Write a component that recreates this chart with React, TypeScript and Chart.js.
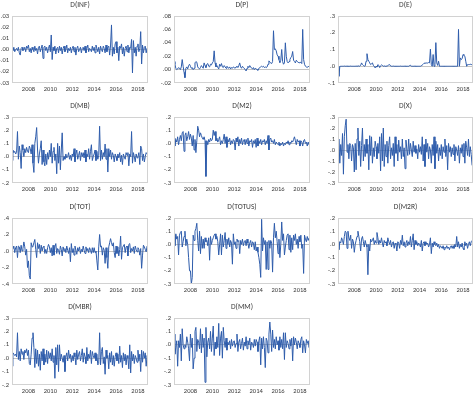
import React, { useEffect, useRef } from 'react';
import { Chart, registerables } from 'chart.js';

Chart.register(...registerables);

// Monthly observations, 2006M07 .. 2018M12
const FIRST_YEAR = 2006;
const FIRST_MONTH = 7;
const N_OBS = 150;
const months: string[] = Array.from({ length: N_OBS }, (_, i) => {
  const m = FIRST_MONTH - 1 + i;
  return `${FIRST_YEAR + Math.floor(m / 12)}M${String((m % 12) + 1).padStart(2, '0')}`;
});
const yearTicks = [2008, 2010, 2012, 2014, 2016, 2018];

const dINF = [
  0.001, -0.001, 0.002, -0.002, 0.000, 0.001,
  -0.001, 0.002, -0.003, -0.005, 0.001, 0.002, -0.001, 0.000, 0.002, -0.002, 0.003, 0.001,
  0.004, -0.002, 0.001, -0.003, 0.002, 0.000, -0.002, 0.003, -0.001, 0.001, -0.004, 0.002,
  0.003, -0.002, 0.001, 0.004, -0.008, 0.002, 0.003, -0.001, 0.002, -0.003, 0.001, 0.004,
  -0.002, 0.013, -0.009, 0.002, -0.001, 0.003, -0.004, 0.001, 0.002, -0.003, 0.003, -0.001,
  0.002, -0.004, 0.001, 0.003, -0.002, 0.000, 0.004, -0.003, 0.001, -0.001, 0.002, -0.003,
  0.001, 0.003, -0.002, 0.002, -0.005, 0.001, 0.003, -0.002, 0.000, 0.002, -0.003, 0.001,
  0.002, -0.001, 0.003, -0.003, 0.001, 0.004, -0.002, 0.001, 0.000, -0.002, 0.003, -0.001,
  0.002, -0.003, 0.004, 0.001, -0.002, 0.002, -0.004, 0.003, 0.000, -0.002, 0.003, 0.001,
  -0.003, 0.004, -0.002, 0.002, 0.003, -0.005, 0.004, 0.022, -0.006, 0.002, -0.004, 0.005,
  0.007, -0.003, 0.002, -0.010, 0.003, 0.001, 0.005, -0.004, 0.002, -0.006, 0.001, 0.003,
  -0.002, 0.004, -0.003, 0.002, 0.001, 0.009, -0.021, 0.008, -0.003, 0.002, -0.006, 0.003,
  0.005, -0.002, 0.001, 0.016, -0.013, 0.004, -0.003, 0.002, 0.003, -0.003, 0.001, 0.002,
];

const dP = [
  0.012, 0.008, 0.002, 0.000, 0.001, 0.003,
  0.002, 0.000, 0.004, 0.015, 0.005, -0.004, -0.012, 0.002, 0.004, 0.001, 0.006, 0.008,
  0.005, 0.002, 0.003, 0.000, 0.002, 0.010, 0.012, 0.011, 0.004, 0.002, 0.001, 0.003,
  0.006, 0.004, 0.002, 0.010, 0.006, 0.003, 0.008, 0.009, 0.005, 0.004, 0.008, 0.007,
  0.010, 0.012, 0.028, 0.010, 0.004, 0.006, 0.003, 0.001, 0.008, 0.005, 0.009, 0.004,
  0.003, 0.006, 0.004, 0.002, 0.005, 0.003, 0.002, 0.004, 0.001, 0.003, 0.002, 0.004,
  0.003, 0.002, 0.004, 0.005, 0.003, 0.006, 0.010, 0.004, 0.002, 0.005, 0.003, 0.002,
  0.000, -0.002, 0.002, 0.005, 0.003, 0.006, 0.004, 0.002, 0.001, 0.003, 0.000, 0.002,
  0.001, 0.000, -0.001, 0.002, 0.003, 0.004, 0.005, 0.004, 0.005, 0.003, 0.004, 0.003,
  0.004, 0.008, 0.013, 0.011, 0.010, 0.009, 0.012, 0.058, 0.030, 0.031, 0.028, 0.022,
  0.020, 0.015, 0.010, 0.014, 0.030, 0.012, 0.008, 0.010, 0.040, 0.020, 0.012, 0.010,
  0.012, 0.015, 0.018, 0.020, 0.027, 0.014, 0.012, 0.010, 0.014, 0.012, 0.011, 0.010,
  0.010, 0.011, 0.009, 0.060, 0.015, 0.008, 0.005, 0.004, 0.003, 0.005, 0.004, 0.006,
];

const dE = [
  0.000, -0.060, -0.002, 0.000, 0.000, 0.000,
  0.000, 0.001, 0.000, 0.000, 0.001, 0.000, 0.000, 0.000, 0.001, 0.000, 0.000, 0.000,
  0.000, 0.000, 0.001, 0.000, 0.000, 0.002, 0.000, 0.005, 0.020, 0.010, 0.005, 0.000,
  0.002, 0.030, 0.075, 0.040, 0.030, 0.020, 0.010, 0.015, 0.020, 0.005, 0.000, -0.010,
  0.000, -0.005, 0.010, 0.005, -0.008, 0.003, 0.008, 0.005, 0.000, 0.002, 0.000, 0.000,
  0.000, 0.003, 0.008, 0.010, 0.002, 0.000, 0.000, 0.001, 0.000, 0.000, 0.000, 0.000,
  0.000, 0.000, 0.000, 0.001, 0.000, 0.000, 0.000, 0.000, 0.001, 0.000, 0.000, 0.000,
  0.000, 0.004, 0.006, 0.000, 0.000, 0.000, 0.000, 0.001, 0.000, 0.000, 0.000, 0.000,
  0.000, 0.000, 0.002, 0.008, 0.012, 0.018, 0.020, 0.018, 0.020, 0.019, 0.022, 0.020,
  0.102, 0.010, 0.000, 0.070, 0.000, 0.010, 0.141, 0.020, 0.005, 0.030, 0.000, 0.000,
  0.000, 0.000, 0.000, 0.000, 0.000, 0.000, 0.000, 0.000, 0.000, 0.000, 0.000, 0.000,
  0.000, 0.000, 0.000, 0.000, 0.000, 0.000, 0.000, 0.220, 0.000, 0.050, 0.040, 0.045,
  0.070, 0.065, 0.060, 0.030, 0.000, 0.010, 0.010, 0.010, 0.012, 0.010, 0.010, 0.010,
];

const dMB = [
  -0.030, 0.050, 0.030, 0.040, 0.020, 0.030,
  0.190, -0.020, 0.080, 0.030, -0.090, 0.090, 0.050, 0.000, 0.060, 0.030, 0.070, 0.040,
  0.030, 0.080, 0.060, 0.020, 0.090, -0.050, -0.120, 0.100, 0.150, 0.220, 0.050, -0.050,
  0.020, 0.060, 0.120, -0.060, 0.050, -0.040, -0.070, 0.020, -0.060, 0.030, -0.020, 0.050,
  0.000, 0.100, -0.050, 0.040, 0.070, -0.030, 0.020, -0.130, 0.100, -0.050, 0.080, -0.100,
  0.050, 0.180, -0.030, 0.000, -0.020, 0.020, -0.010, 0.000, 0.030, -0.020, 0.010, -0.030,
  0.020, 0.000, 0.060, -0.040, 0.020, 0.050, -0.020, 0.010, 0.040, -0.030, 0.030, 0.000,
  0.030, -0.010, 0.050, -0.040, 0.020, 0.000, 0.060, -0.020, 0.040, 0.090, -0.030, 0.000,
  0.020, 0.050, -0.030, 0.040, -0.020, 0.010, 0.230, -0.030, 0.050, -0.020, 0.030, 0.000,
  0.095, -0.020, 0.060, -0.117, 0.060, 0.000, 0.050, -0.020, 0.030, 0.010, -0.040, 0.020,
  0.000, -0.030, 0.020, -0.010, 0.030, -0.040, 0.010, -0.060, 0.020, 0.000, -0.020, 0.030,
  0.010, 0.030, -0.070, 0.020, 0.000, 0.190, -0.050, 0.030, 0.000, -0.040, 0.020, -0.010,
  0.000, 0.030, -0.060, 0.080, 0.060, -0.030, 0.020, -0.040, 0.000, 0.030, 0.020, 0.030,
];

const dM2 = [
  0.040, -0.020, 0.030, 0.010, 0.050, -0.010,
  0.030, 0.060, 0.020, 0.080, 0.090, -0.060, 0.060, 0.080, 0.020, 0.050, 0.090, 0.030,
  0.070, 0.040, -0.020, 0.060, -0.050, 0.030, -0.070, 0.020, 0.130, 0.100, 0.050, 0.080,
  0.060, 0.040, 0.030, 0.050, 0.020, -0.250, 0.020, -0.010, 0.030, 0.010, 0.040, 0.020,
  0.030, 0.100, 0.060, 0.090, 0.020, 0.040, 0.010, 0.030, 0.050, -0.010, 0.020, 0.000,
  0.030, 0.070, 0.000, 0.050, -0.030, 0.030, 0.010, 0.040, -0.010, 0.020, 0.000, 0.030,
  0.020, -0.050, 0.040, 0.010, 0.050, -0.020, 0.030, 0.000, 0.040, -0.010, 0.020, 0.030,
  -0.010, 0.030, 0.000, 0.040, -0.020, 0.020, 0.010, 0.030, -0.030, 0.020, 0.000, 0.030,
  -0.030, 0.040, -0.020, 0.020, 0.000, 0.030, -0.010, 0.020, 0.010, 0.030, -0.010, 0.020,
  0.000, 0.060, -0.050, 0.030, 0.040, 0.010, 0.020, 0.000, 0.030, -0.010, 0.010, 0.000,
  -0.010, 0.010, -0.020, 0.000, -0.010, 0.010, -0.020, 0.000, -0.010, 0.010, 0.000, 0.020,
  -0.010, 0.010, 0.000, 0.020, 0.010, 0.030, 0.050, 0.020, -0.010, 0.030, 0.010, 0.020,
  -0.020, 0.020, 0.010, -0.020, 0.020, 0.030, 0.000, 0.010, -0.020, 0.010, -0.010, 0.020,
];

const dX = [
  -0.100, 0.100, -0.120, 0.050, -0.050, 0.150,
  -0.220, 0.120, 0.220, 0.280, -0.020, 0.050, -0.080, 0.060, 0.040, -0.100, 0.050, 0.020,
  -0.200, 0.060, -0.180, 0.100, 0.200, -0.050, 0.080, -0.150, 0.040, 0.200, -0.100, 0.050,
  -0.060, 0.100, -0.030, 0.050, -0.180, 0.130, -0.050, 0.120, -0.120, 0.020, -0.060, 0.080,
  0.030, -0.080, 0.060, -0.030, 0.120, -0.190, 0.150, -0.100, 0.200, -0.150, 0.050, -0.060,
  0.080, -0.120, 0.040, 0.120, -0.080, 0.020, -0.050, 0.060, -0.150, 0.120, -0.030, 0.050,
  -0.100, 0.090, -0.020, 0.030, -0.080, 0.100, -0.060, 0.020, -0.170, 0.090, 0.010, -0.050,
  0.100, -0.040, 0.060, 0.000, -0.060, 0.080, -0.020, 0.040, -0.030, 0.010, -0.080, 0.050,
  -0.020, 0.030, -0.040, 0.120, -0.100, 0.050, -0.150, 0.100, -0.020, 0.060, -0.080, 0.030,
  0.000, -0.120, 0.050, -0.050, 0.120, -0.170, 0.080, -0.030, 0.050, -0.100, 0.020, -0.050,
  0.050, -0.080, 0.030, -0.020, 0.100, -0.060, 0.040, -0.180, 0.060, -0.020, 0.030, -0.060,
  0.020, -0.040, 0.050, -0.100, 0.030, 0.000, -0.050, 0.040, -0.120, 0.020, -0.030, 0.050,
  -0.060, 0.060, -0.120, 0.080, 0.020, -0.050, 0.100, -0.060, 0.030, -0.040, -0.140, -0.140,
];

const dTOT = [
  0.050, 0.030, 0.060, -0.020, 0.040, 0.060,
  -0.080, 0.060, 0.050, -0.020, 0.070, 0.000, 0.030, 0.110, 0.050, -0.050, 0.020, -0.200,
  -0.120, -0.300, -0.340, 0.100, 0.050, 0.060, 0.100, 0.140, 0.020, -0.080, 0.100, 0.030,
  0.080, -0.030, 0.070, 0.000, 0.050, 0.060, -0.030, 0.020, -0.030, 0.040, 0.080, 0.050,
  -0.020, 0.040, -0.060, 0.070, -0.050, 0.050, 0.090, -0.030, 0.030, 0.010, -0.040, 0.060,
  0.020, -0.060, 0.050, 0.000, 0.030, -0.020, 0.060, 0.010, -0.030, 0.040, -0.130, 0.090,
  -0.020, 0.030, -0.050, 0.060, 0.010, -0.040, 0.040, 0.000, 0.050, -0.030, 0.020, -0.010,
  0.060, 0.010, -0.030, 0.050, 0.000, 0.030, -0.020, 0.040, 0.010, -0.030, 0.040, -0.020,
  0.040, -0.020, 0.000, -0.120, -0.230, 0.050, 0.200, 0.050, 0.060, -0.050, 0.040, 0.010,
  -0.150, 0.040, -0.080, -0.210, 0.050, 0.100, 0.150, 0.100, 0.060, 0.100, -0.020, -0.080,
  0.060, -0.030, 0.050, -0.060, 0.020, 0.180, -0.100, 0.040, 0.060, 0.080, -0.020, 0.050,
  0.060, -0.060, 0.080, 0.090, -0.020, 0.030, 0.000, 0.050, -0.030, 0.060, 0.020, -0.010,
  0.040, 0.020, -0.050, 0.030, -0.210, -0.050, 0.070, 0.050, 0.020, -0.010, 0.060, 0.050,
];

const dTOTUS = [
  0.070, -0.010, 0.080, 0.040, 0.060, -0.080,
  0.070, 0.090, 0.100, -0.020, 0.020, 0.060, 0.100, -0.010, 0.040, 0.000, -0.100, -0.200,
  -0.200, -0.300, -0.250, 0.070, 0.030, 0.100, 0.120, 0.160, 0.030, -0.050, 0.100, -0.070,
  0.060, -0.030, 0.040, -0.030, 0.050, 0.020, 0.030, -0.010, 0.050, -0.120, 0.060, 0.000,
  0.030, 0.050, 0.070, 0.080, 0.040, 0.060, 0.020, -0.080, 0.000, 0.080, -0.080, 0.070,
  -0.020, 0.030, 0.090, -0.030, 0.040, 0.000, 0.050, -0.020, 0.030, 0.010, -0.150, 0.080,
  0.000, 0.020, -0.030, 0.040, 0.020, 0.030, -0.070, 0.030, 0.000, 0.040, -0.010, 0.020,
  0.030, -0.010, 0.040, 0.010, -0.030, 0.010, 0.030, -0.020, 0.020, 0.010, -0.040, 0.020,
  -0.050, -0.020, -0.060, -0.100, -0.150, -0.250, 0.190, -0.050, 0.050, 0.000, 0.030, -0.190,
  0.020, -0.190, 0.030, -0.030, 0.030, 0.010, -0.210, 0.050, 0.160, 0.050, 0.100, 0.020,
  -0.070, 0.040, -0.100, 0.000, 0.170, 0.030, 0.080, -0.080, -0.020, 0.030, 0.070, 0.080,
  -0.040, 0.070, -0.060, 0.050, -0.040, 0.070, 0.030, 0.080, 0.000, 0.040, -0.030, 0.060,
  0.020, 0.070, -0.030, 0.000, -0.220, 0.070, 0.040, 0.020, 0.060, 0.030, 0.050, 0.050,
];

const dM2R = [
  0.020, -0.040, 0.020, 0.010, 0.050, 0.030,
  0.000, 0.060, 0.100, 0.090, -0.030, 0.100, 0.050, 0.030, 0.070, -0.030, 0.040, 0.020,
  -0.060, 0.000, 0.030, 0.060, 0.100, 0.060, 0.020, -0.050, 0.040, 0.060, 0.020, -0.020,
  0.030, 0.000, -0.020, -0.230, 0.000, -0.050, 0.040, 0.020, 0.030, 0.050, 0.000, 0.030,
  0.010, 0.090, 0.050, 0.000, 0.030, 0.010, 0.050, 0.010, -0.020, 0.030, 0.010, 0.020,
  -0.010, 0.050, 0.020, 0.000, 0.030, -0.020, 0.010, 0.020, -0.030, 0.010, 0.000, -0.050,
  0.020, 0.010, -0.030, 0.030, 0.000, 0.070, -0.010, 0.020, -0.020, 0.010, 0.030, -0.010,
  0.020, 0.000, 0.060, -0.020, 0.030, 0.080, -0.040, 0.030, 0.000, 0.020, -0.010, 0.010,
  0.000, -0.020, 0.030, -0.050, 0.010, 0.020, -0.010, 0.020, 0.000, 0.010, -0.020, 0.000,
  0.050, -0.070, 0.010, -0.020, 0.020, 0.000, -0.010, 0.010, -0.020, 0.000, -0.030, -0.010,
  -0.020, -0.030, -0.010, -0.040, -0.020, -0.030, -0.010, -0.030, -0.020, -0.040, -0.020, -0.010,
  -0.030, -0.010, -0.030, 0.000, -0.020, 0.060, -0.020, 0.020, -0.030, 0.000, -0.020, 0.010,
  -0.030, -0.040, 0.020, -0.010, 0.010, -0.030, 0.000, 0.020, -0.010, 0.020, 0.030, 0.030,
];

const dMBR = [
  -0.060, 0.040, 0.030, 0.020, 0.030, 0.010,
  0.190, -0.010, 0.050, -0.020, 0.070, 0.030, 0.050, -0.010, 0.060, 0.040, 0.070, 0.020,
  0.060, -0.040, -0.050, 0.030, 0.150, 0.190, 0.080, -0.070, 0.070, -0.040, 0.060, -0.060,
  0.030, -0.090, 0.050, -0.020, 0.070, -0.050, 0.030, -0.030, 0.060, -0.040, 0.050, 0.000,
  0.040, -0.020, 0.070, -0.030, 0.020, -0.150, 0.080, -0.050, 0.100, -0.100, 0.100, -0.020,
  0.030, 0.000, -0.030, 0.020, -0.100, 0.010, 0.040, -0.020, 0.060, 0.000, 0.030, -0.030,
  0.020, -0.020, 0.040, 0.010, -0.050, 0.060, -0.010, 0.030, 0.050, -0.020, 0.020, 0.070,
  -0.030, 0.040, 0.010, -0.040, 0.080, -0.020, 0.030, 0.000, 0.060, -0.040, 0.050, 0.020,
  0.000, 0.040, -0.020, 0.030, -0.050, -0.040, 0.190, -0.050, 0.050, 0.080, -0.040, 0.010,
  -0.120, 0.060, 0.000, 0.020, -0.080, 0.040, -0.030, 0.050, -0.050, 0.020, -0.060, 0.010,
  0.040, -0.020, 0.030, -0.040, 0.090, -0.030, 0.020, -0.070, 0.040, -0.020, 0.030, -0.050,
  0.020, 0.000, -0.080, 0.100, -0.110, 0.050, -0.020, 0.030, -0.040, 0.020, 0.000, -0.030,
  0.060, -0.020, 0.030, -0.100, 0.060, -0.030, 0.050, 0.000, 0.040, -0.060, 0.020, -0.010,
];

const dMM = [
  0.080, -0.070, -0.020, 0.030, -0.160, 0.030,
  -0.020, 0.080, -0.120, 0.120, 0.000, -0.030, 0.000, -0.020, 0.060, 0.020, -0.030, -0.120,
  0.080, -0.020, 0.050, -0.180, -0.100, 0.100, 0.130, -0.050, 0.040, 0.020, -0.030, 0.120,
  -0.060, 0.080, -0.020, 0.050, -0.280, 0.130, -0.090, 0.020, 0.050, -0.030, 0.100, -0.050,
  0.050, 0.140, -0.080, 0.020, -0.030, 0.060, -0.020, 0.160, -0.080, 0.050, 0.100, -0.100,
  0.130, 0.030, -0.020, 0.050, -0.040, 0.020, 0.000, 0.030, -0.030, 0.040, -0.010, 0.020,
  0.030, -0.020, 0.010, 0.080, -0.050, 0.020, 0.040, -0.030, 0.010, 0.050, -0.040, 0.020,
  -0.010, 0.060, -0.030, 0.030, 0.000, 0.050, -0.040, 0.020, 0.010, -0.020, 0.040, -0.010,
  0.040, 0.020, -0.050, 0.030, 0.060, -0.150, 0.050, -0.030, 0.060, -0.020, -0.170, 0.050,
  0.030, -0.060, 0.080, 0.170, 0.080, -0.050, 0.110, -0.020, 0.040, -0.030, 0.060, 0.000,
  0.030, -0.040, 0.060, -0.020, 0.040, -0.030, 0.090, -0.110, 0.090, -0.020, 0.030, 0.010,
  -0.030, 0.040, -0.010, 0.050, -0.120, 0.060, 0.000, 0.050, 0.020, -0.030, 0.030, 0.010,
  -0.020, 0.040, 0.060, -0.060, 0.030, 0.000, -0.060, 0.040, 0.010, 0.030, -0.020, 0.030,
];

// Y-axis tick values per panel
const ticksINF = [-0.03, -0.02, -0.01, 0, 0.01, 0.02, 0.03];
const ticksP = [-0.02, 0, 0.02, 0.04, 0.06, 0.08];
const ticksE = [-0.1, 0, 0.1, 0.2, 0.3];
const ticksMB = [-0.2, -0.1, 0, 0.1, 0.2, 0.3];
const ticksM2 = [-0.3, -0.2, -0.1, 0, 0.1, 0.2];
const ticksX = [-0.3, -0.2, -0.1, 0, 0.1, 0.2, 0.3];
const ticksTOT = [-0.4, -0.2, 0, 0.2, 0.4];
const ticksTOTUS = [-0.3, -0.2, -0.1, 0, 0.1, 0.2];
const ticksM2R = [-0.3, -0.2, -0.1, 0, 0.1, 0.2];
const ticksMBR = [-0.2, -0.1, 0, 0.1, 0.2, 0.3];
const ticksMM = [-0.3, -0.2, -0.1, 0, 0.1, 0.2];

const titles = ['D(INF)', 'D(P)', 'D(E)', 'D(MB)', 'D(M2)', 'D(X)', 'D(TOT)', 'D(TOTUS)', 'D(M2R)', 'D(MBR)', 'D(MM)'];
const seriesList = [dINF, dP, dE, dMB, dM2, dX, dTOT, dTOTUS, dM2R, dMBR, dMM];
const tickList = [ticksINF, ticksP, ticksE, ticksMB, ticksM2, ticksX, ticksTOT, ticksTOTUS, ticksM2R, ticksMBR, ticksMM];
const decimalsList = [2, 2, 1, 1, 1, 1, 1, 1, 1, 1, 1];

// Layout (page pixels)
const PLOT_LEFT = [12, 174, 338];
const PLOT_RIGHT = [148, 310, 473];
const CANVAS_LEFT = [0, 158, 322];
const PLOT_TOP = [16, 117, 218, 318];
const PLOT_BOTTOM = [83, 183, 284, 385];
const PAD_TOP = 16;
const XAXIS_H = 12;
const PAD_RIGHT = 6;

const LINE_COLOR = '#2e5cab';
const TEXT_COLOR = '#3a3a3a';
const FRAME_COLOR = '#d2d2d2';
const FONT_FAMILY = 'Carlito, Lato, sans-serif';

const monthToX = (label: string) => {
  const [y, m] = label.split('M');
  return Number(y) + (Number(m) - 1) / 12;
};
const X_MIN = monthToX(months[0]);
const X_MAX = monthToX(months[months.length - 1]);

const fmt = (v: number, d: number) => {
  const s = Math.abs(v).toFixed(d).replace(/^0/, '');
  return (v < -1e-9 ? '-' : '') + s;
};

function Panel({ idx }: { idx: number }) {
  const ref = useRef<HTMLCanvasElement | null>(null);
  const col = idx % 3;
  const row = Math.floor(idx / 3);
  const cLeft = CANVAS_LEFT[col];
  const cTop = PLOT_TOP[row] - PAD_TOP;
  const width = PLOT_RIGHT[col] - cLeft + PAD_RIGHT;
  const height = PLOT_BOTTOM[row] - cTop + XAXIS_H;
  const yAxisW = PLOT_LEFT[col] - cLeft;

  useEffect(() => {
    if (!ref.current) return;
    const values = seriesList[idx];
    const ticks = tickList[idx];
    const dec = decimalsList[idx];
    const title = titles[idx];
    const framePlugin = {
      id: 'frame' + idx,
      afterDraw(chart: any) {
        const { ctx, chartArea } = chart;
        ctx.save();
        ctx.strokeStyle = FRAME_COLOR;
        ctx.lineWidth = 1;
        ctx.strokeRect(
          Math.round(chartArea.left) + 0.5,
          Math.round(chartArea.top) + 0.5,
          Math.round(chartArea.right - chartArea.left) - 1,
          Math.round(chartArea.bottom - chartArea.top) - 1
        );
        ctx.fillStyle = TEXT_COLOR;
        ctx.font = `7.5px ${FONT_FAMILY}`;
        ctx.textAlign = 'center';
        ctx.textBaseline = 'middle';
        ctx.fillText(title, (chartArea.left + chartArea.right) / 2, chartArea.top - 11);
        ctx.restore();
      },
    };
    const chart = new Chart(ref.current, {
      type: 'line',
      data: {
        labels: months,
        datasets: [
          {
            data: months.map((m, i) => ({ x: monthToX(m), y: values[i] })),
            borderColor: LINE_COLOR,
            borderWidth: 1,
            pointRadius: 0,
            tension: 0,
            fill: false,
          },
        ],
      },
      options: {
        animation: false,
        responsive: false,
        devicePixelRatio: 1,
        events: [],
        layout: { padding: { top: PAD_TOP, left: 0, right: PAD_RIGHT, bottom: 0 } },
        plugins: { legend: { display: false }, tooltip: { enabled: false }, title: { display: false } },
        scales: {
          x: {
            type: 'linear',
            min: X_MIN,
            max: X_MAX,
            afterFit: (s: any) => { s.height = XAXIS_H; },
            afterBuildTicks: (s: any) => { s.ticks = yearTicks.map((v) => ({ value: v })); },
            grid: { display: false, drawTicks: false },
            border: { display: false },
            ticks: {
              autoSkip: false,
              maxRotation: 0,
              padding: 2,
              color: TEXT_COLOR,
              font: { family: FONT_FAMILY, size: 6.5 },
              callback: (v: any) => String(v),
            },
          },
          y: {
            type: 'linear',
            min: ticks[0],
            max: ticks[ticks.length - 1],
            afterFit: (s: any) => { s.width = yAxisW; },
            afterBuildTicks: (s: any) => { s.ticks = ticks.map((v) => ({ value: v })); },
            grid: {
              drawTicks: false,
              lineWidth: 1,
              color: (c: any) => (c.tick && Math.abs(c.tick.value) < 1e-9 ? '#c4c4c4' : 'rgba(0,0,0,0)'),
            },
            border: { display: false },
            ticks: {
              autoSkip: false,
              padding: 3,
              color: TEXT_COLOR,
              font: { family: FONT_FAMILY, size: 6.5 },
              callback: (v: any) => fmt(Number(v), dec),
            },
          },
        },
      },
      plugins: [framePlugin],
    } as any);
    return () => chart.destroy();
  }, [idx]);

  return (
    <canvas
      ref={ref}
      width={width}
      height={height}
      style={{ position: 'absolute', left: cLeft, top: cTop, width, height }}
    />
  );
}

export default function App() {
  return (
    <div
      style={{
        position: 'fixed',
        left: 0,
        top: 0,
        width: 474,
        height: 395,
        overflow: 'hidden',
        background: '#ffffff',
      }}
    >
      {titles.map((_, i) => (
        <Panel key={i} idx={i} />
      ))}
    </div>
  );
}
